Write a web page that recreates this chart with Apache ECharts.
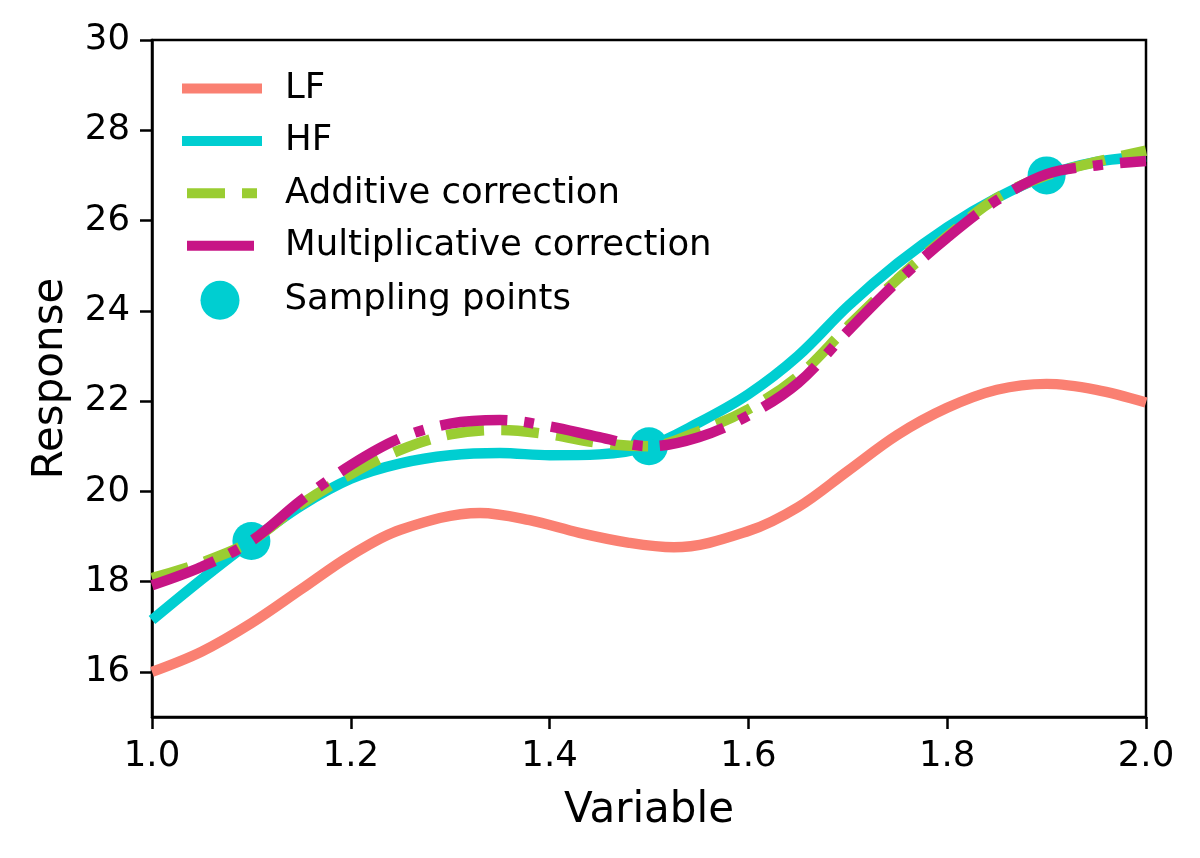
<!DOCTYPE html>
<html>
<head>
<meta charset="utf-8">
<script src="https://cdn.jsdelivr.net/npm/echarts@6/dist/echarts.min.js"></script>
<style>
html,body{margin:0;padding:0;background:#fff;}
#chart{width:1200px;height:858px;}
</style>
</head>
<body>
<div id="chart"></div>
<script>
// Low-fidelity curve (x positions chosen at read points, including its extrema)
var lfX = [1.00,1.05,1.10,1.15,1.20,1.25,1.33,1.38,1.43,1.48,1.525,1.60,1.65,1.70,1.75,1.80,1.85,1.90,1.95,2.00];
var lfY = [16.0,16.45,17.08,17.83,18.58,19.15,19.52,19.36,19.08,18.86,18.76,19.12,19.65,20.45,21.25,21.85,22.25,22.38,22.25,21.97];
// Other curves read every 0.05
var xs = [1.00,1.05,1.10,1.15,1.20,1.25,1.30,1.35,1.40,1.45,1.50,1.55,1.60,1.65,1.70,1.75,1.80,1.85,1.90,1.95,2.00];
var hf = [17.15,18.05,18.9,19.68,20.28,20.62,20.8,20.85,20.8,20.82,21.0,21.52,22.15,23.0,24.1,25.05,25.85,26.5,27.0,27.3,27.42];
var additive = [18.08,18.42,18.9,19.72,20.38,20.92,21.26,21.36,21.26,21.07,21.0,21.33,21.82,22.55,23.65,24.7,25.65,26.5,27.0,27.3,27.55];
var multiplicative = [17.92,18.33,18.9,19.8,20.58,21.18,21.5,21.58,21.44,21.2,21.0,21.2,21.68,22.4,23.55,24.65,25.62,26.45,27.03,27.22,27.32];
var sampleX = [1.1,1.5,1.9];
var sampleY = [18.9,21.0,27.0];
var xTicks = [1.0,1.2,1.4,1.6,1.8,2.0];
var yTicks = [16,18,20,22,24,26,28,30];
var seriesNames = ['LF','HF','Additive correction','Multiplicative correction','Sampling points'];

function pairs(xa, ya){ return xa.map(function(x,i){ return [x, ya[i]]; }); }

var FONT = 'DejaVu Sans';
var hiddenSymbol = {opacity:0,color:'rgba(0,0,0,0)'};
var chart = echarts.init(document.getElementById('chart'), null, {renderer:'canvas'});
var option = {
  backgroundColor:'#ffffff',
  animation:false,
  textStyle:{fontFamily:FONT,color:'#000'},
  grid:{left:152,top:40,width:994,height:677,show:true,borderColor:'#000',borderWidth:2.5,backgroundColor:'transparent'},
  xAxis:{
    type:'value',min:1,max:2,
    name:'Variable',nameLocation:'middle',nameGap:73,
    nameTextStyle:{fontFamily:FONT,fontSize:42,color:'#000'},
    axisLine:{show:true,lineStyle:{color:'#000',width:2.5}},
    axisTick:{show:true,inside:false,length:12,lineStyle:{color:'#000',width:2.5},customValues:xTicks},
    axisLabel:{show:true,margin:22,fontFamily:FONT,fontSize:35.5,color:'#000',customValues:xTicks,
      formatter:function(v){return Number(v).toFixed(1);}},
    splitLine:{show:false}
  },
  yAxis:{
    type:'value',min:15,max:30,
    name:'Response',nameLocation:'middle',nameGap:80,
    nameTextStyle:{fontFamily:FONT,fontSize:42,color:'#000'},
    axisLine:{show:true,lineStyle:{color:'#000',width:2.5}},
    axisTick:{show:true,inside:false,length:12,lineStyle:{color:'#000',width:2.5},customValues:yTicks},
    axisLabel:{show:true,margin:22,fontFamily:FONT,fontSize:35.5,color:'#000',customValues:yTicks},
    splitLine:{show:false}
  },
  legend:[
    {
      show:true,orient:'vertical',left:182,top:68.5,padding:0,
      itemWidth:70,itemHeight:40,itemGap:12.4,
      textStyle:{fontFamily:FONT,fontSize:35.5,color:'#000',lineHeight:40,padding:[0,0,0,23]},
      lineStyle:{width:10},
      data:[
        {name:seriesNames[0],itemStyle:hiddenSymbol,lineStyle:{width:10,cap:'square'}},
        {name:seriesNames[1],itemStyle:hiddenSymbol,lineStyle:{width:10,cap:'square'}},
        {name:seriesNames[2],itemStyle:hiddenSymbol,lineStyle:{width:10}},
        {name:seriesNames[3],itemStyle:hiddenSymbol,lineStyle:{width:10}}
      ]
    },
    {
      show:true,orient:'vertical',left:200.5,top:280.7,padding:0,
      itemWidth:70,itemHeight:39,itemGap:10,
      textStyle:{fontFamily:FONT,fontSize:35.5,color:'#000',lineHeight:39,padding:[0,0,0,24.5]},
      data:[{name:seriesNames[4],icon:'circle'}]
    }
  ],
  series:[
    {name:seriesNames[0],type:'line',data:pairs(lfX,lfY),smooth:0.35,symbol:'none',
      lineStyle:{color:'#FA8072',width:10.4},itemStyle:{color:'#FA8072'}},
    {name:seriesNames[1],type:'line',data:pairs(xs,hf),smooth:0.35,symbol:'none',
      lineStyle:{color:'#00CED1',width:10.4},itemStyle:{color:'#00CED1'}},
    {name:seriesNames[4],type:'scatter',data:pairs(sampleX,sampleY),symbol:'circle',symbolSize:38,
      itemStyle:{color:'#00CED1',opacity:1}},
    {name:seriesNames[2],type:'line',data:pairs(xs,additive),smooth:0.35,symbol:'none',
      lineStyle:{color:'#9ACD32',width:10.4,type:[38,17],cap:'butt'},itemStyle:{color:'#9ACD32'}},
    {name:seriesNames[3],type:'line',data:pairs(xs,multiplicative),smooth:0.35,symbol:'none',
      lineStyle:{color:'#C71585',width:10.4,type:[67,17,10,17],cap:'butt'},itemStyle:{color:'#C71585'}}
  ]
};
chart.setOption(option);
</script>
</body>
</html>
